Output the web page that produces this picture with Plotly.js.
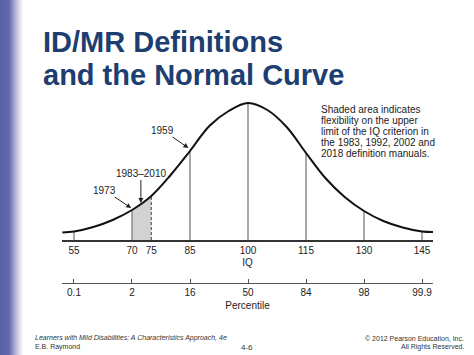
<!DOCTYPE html>
<html>
<head>
<meta charset="utf-8">
<script src="https://cdn.plot.ly/plotly-3.0.1.min.js"></script>
<style>
html,body{margin:0;padding:0;}
body{background:linear-gradient(to right,#5a5fa5 0px,#6368ab 9px,#b9bbd9 16px,#ffffff 23px,#ffffff 100%);}
#chart{width:474px;height:355px;}
</style>
</head>
<body>
<div id="chart"></div>
<script>
// Curve (IQ vs. drawn height above baseline)
const curveIQ     = [52, 55, 60, 65, 70, 75, 80, 85, 90, 95, 100, 105, 110, 115, 120, 125, 130, 135, 140, 145, 148];
const curveHeight = [7.5, 8.5, 13, 20, 30, 44, 65, 89, 114, 129, 137, 130, 113, 87, 62, 43, 29, 19, 12.5, 8.5, 8];

// IQ axis
const iqTickVals   = [55, 70, 75, 85, 100, 115, 130, 145];
const iqTickLabels = ['55', '70', '75', '85', '100', '115', '130', '145'];

// Percentile axis (placed under the matching IQ values)
const pctTickIQ     = [55, 70, 85, 100, 115, 130, 145];
const pctTickLabels = ['0.1', '2', '16', '50', '84', '98', '99.9'];

// Drop lines and shaded band
const solidDropIQ = [55, 70, 85, 100, 115, 130, 145];
const dashedDropIQ = [75];
const shadeFrom = 70, shadeTo = 75;

const noteLines = [
  'Shaded area indicates',
  'flexibility on the upper',
  'limit of the IQ criterion in',
  'the 1983, 1992, 2002 and',
  '2018 definition manuals.'
];

function heightAt(v){ return curveHeight[curveIQ.indexOf(v)]; }

const FONT = 'Liberation Sans, Arial, Helvetica, sans-serif';
const traces = [];

// shaded area
const shX = [], shY = [];
curveIQ.forEach((v,i)=>{ if(v>=shadeFrom && v<=shadeTo){ shX.push(v); shY.push(curveHeight[i]); } });
traces.push({x:shX, y:shY, type:'scatter', mode:'lines', fill:'tozeroy',
  fillcolor:'#d2d2d2', line:{width:0, color:'#d2d2d2'}, hoverinfo:'skip', showlegend:false});

solidDropIQ.forEach(v=>{
  traces.push({x:[v,v], y:[0,heightAt(v)], type:'scatter', mode:'lines',
    line:{color:'#8c8c8c', width:1.5}, hoverinfo:'skip', showlegend:false});
});
dashedDropIQ.forEach(v=>{
  traces.push({x:[v,v], y:[0,heightAt(v)], type:'scatter', mode:'lines',
    line:{color:'#666', width:1.3, dash:'3px,2px'}, hoverinfo:'skip', showlegend:false});
});

traces.push({x:curveIQ, y:curveHeight, type:'scatter', mode:'lines',
  line:{color:'#111', width:2, shape:'spline', smoothing:1}, hoverinfo:'skip', showlegend:false});

// invisible trace on the percentile axis
traces.push({x:pctTickIQ, y:pctTickIQ.map(()=>0), xaxis:'x2', yaxis:'y', type:'scatter',
  mode:'markers', marker:{size:0, opacity:0}, hoverinfo:'skip', showlegend:false});

const xr = [51.9, 147.84];

const annotations = [
  {text:'and the Normal Curve', xref:'paper', yref:'paper', x:-0.057, y:1.075,
   xanchor:'left', yanchor:'middle', showarrow:false,
   font:{family:FONT, size:29, color:'#1d3e70', weight:'bold'}},
  {text:'1959', x:84.6, y:92, ax:-26, ay:-18, showarrow:true, arrowhead:2, arrowsize:1, arrowwidth:1,
   arrowcolor:'#222', standoff:0, font:{family:FONT, size:10, color:'#222'}},
  {text:'1983–2010', x:72.3, y:37, ax:0, ay:-30, showarrow:true, arrowhead:2, arrowsize:1, arrowwidth:1,
   arrowcolor:'#222', standoff:0, font:{family:FONT, size:10, color:'#222'}},
  {text:'1973', x:69.8, y:32, ax:-27, ay:-18, showarrow:true, arrowhead:2, arrowsize:1, arrowwidth:1,
   arrowcolor:'#222', standoff:0, font:{family:FONT, size:10, color:'#222'}},
  {text:'Learners with Mild Disabilities: A Characteristics Approach, 4e', xref:'paper', yref:'paper',
   x:-0.078, y:-0.24, xanchor:'left', yanchor:'middle', showarrow:false,
   font:{family:FONT, size:7, color:'#333', style:'italic'}},
  {text:'E.B. Raymond', xref:'paper', yref:'paper', x:-0.078, y:-0.285, xanchor:'left', yanchor:'middle',
   showarrow:false, font:{family:FONT, size:7, color:'#333'}},
  {text:'4-6', xref:'paper', yref:'paper', x:0.4987, y:-0.285, xanchor:'center', yanchor:'middle',
   showarrow:false, font:{family:FONT, size:8, color:'#333'}},
  {text:'© 2012 Pearson Education, Inc.', xref:'paper', yref:'paper', x:1.089, y:-0.24, xanchor:'right',
   yanchor:'middle', showarrow:false, font:{family:FONT, size:7, color:'#333'}},
  {text:'All Rights Reserved.', xref:'paper', yref:'paper', x:1.089, y:-0.285, xanchor:'right',
   yanchor:'middle', showarrow:false, font:{family:FONT, size:7, color:'#333'}}
];
const noteY0 = 131, noteStep = 11;
noteLines.forEach((t,i)=>{
  annotations.push({text:t, x:118.4, y:noteY0 - i*noteStep, xanchor:'left', yanchor:'middle',
    showarrow:false, font:{family:FONT, size:10, color:'#222'}});
});

const layout = {
  width:474, height:355,
  margin:{l:62, r:41, t:90, b:65},
  paper_bgcolor:'rgba(0,0,0,0)', plot_bgcolor:'rgba(0,0,0,0)',
  title:{text:'ID/MR Definitions', xref:'container', yref:'container', x:43/474, xanchor:'left',
    y:1-42/355, yanchor:'middle', font:{family:FONT, size:29, color:'#1d3e70', weight:'bold'}},
  showlegend:false,
  xaxis:{range:xr, anchor:'y', showline:true, linecolor:'#333', linewidth:2, showgrid:false,
    zeroline:false, tickmode:'array', tickvals:iqTickVals, ticktext:iqTickLabels, ticks:'',
    tickfont:{family:FONT, size:10, color:'#222'},
    title:{text:'IQ', font:{family:FONT, size:10, color:'#222'}, standoff:4}},
  xaxis2:{range:xr, overlaying:'x', anchor:'free', position:0.035, side:'bottom', showline:true,
    linecolor:'#555', linewidth:1.3, showgrid:false, zeroline:false, tickmode:'array',
    tickvals:pctTickIQ, ticktext:pctTickLabels, ticks:'inside', ticklen:4, tickcolor:'#555', tickwidth:1,
    tickfont:{family:FONT, size:10, color:'#222'},
    title:{text:'Percentile', font:{family:FONT, size:10, color:'#222'}, standoff:4}},
  yaxis:{domain:[0.25,1], range:[0,150], visible:false, fixedrange:true},
  annotations:annotations
};

Plotly.newPlot('chart', traces, layout, {staticPlot:true, displayModeBar:false});
</script>
</body>
</html>
